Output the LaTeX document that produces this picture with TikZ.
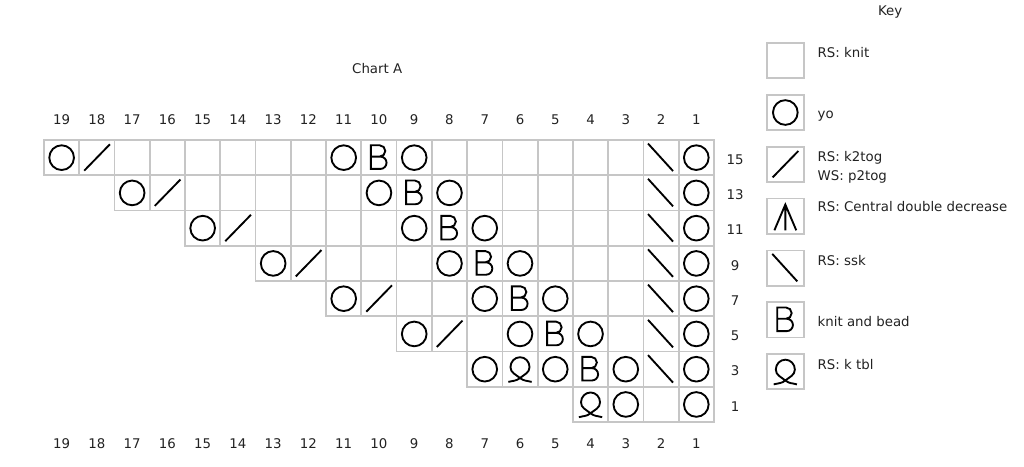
\documentclass[tikz,border=0pt]{standalone}
\usepackage{fontspec}
\setmainfont{DejaVu Sans}
\definecolor{gridgray}{RGB}{198,198,198}
\definecolor{inkgray}{RGB}{34,34,34}
\tikzset{
  cellbox/.style={draw=gridgray,line width=1.3pt},
  stitch/.style={draw=black,line width=1.4pt},
  num/.style={anchor=base,text=inkgray,font=\fontsize{10}{12}\selectfont},
  keylabel/.style={anchor=base west,text=inkgray,font=\fontsize{10}{12}\selectfont}
}
\newcommand{\yarnover}[1]{\draw[stitch] (#1) circle[radius=0.35];}
\newcommand{\ktwotog}[1]{\draw[stitch,shift={(#1)}] (-0.36,-0.37) -- (0.37,0.38);}
\newcommand{\sskst}[1]{\draw[stitch,shift={(#1)}] (-0.37,0.40) -- (0.34,-0.38);}
\newcommand{\beadst}[1]{\draw[stitch,shift={(#1)}] (-0.23,-0.32) -- (-0.23,0.35) -- (0.02,0.35)
  arc[start angle=90,end angle=-90,radius=0.16] -- (-0.23,0.03) -- (0.04,0.03)
  arc[start angle=90,end angle=-90,radius=0.175] -- cycle;}
\newcommand{\ktbl}[1]{\draw[stitch,shift={(#1)}] (-0.33,-0.36) to[out=15,in=220] (0,-0.25)
  to[out=40,in=-90] (0.27,0.06) to[out=90,in=0] (0,0.34) to[out=180,in=90] (-0.27,0.06)
  to[out=-90,in=140] (0,-0.25) to[out=-40,in=165] (0.33,-0.36);}
\newcommand{\cddst}[1]{\draw[stitch,shift={(#1)}] (-0.31,-0.4) -- (0,0.33) -- (0.31,-0.4) (0,0.33) -- (0,-0.4);}
\begin{document}
\begin{tikzpicture}[x=26.445pt,y=26.445pt]
  \useasboundingbox (-1.248,3.971) rectangle (27.794,-9.246);

  \foreach \R/\n in {15/19,13/17,11/15,9/13,7/11,5/9,3/7,1/4}
    \foreach \c in {1,...,\n} {
      \draw[cellbox] ({19-\c},{(\R-17)/2}) rectangle +(1,1);
      \coordinate (s\c-\R) at ({19.5-\c},{(\R-16)/2});
    }

  \foreach \c in {1,...,19} {
    \node[num] (top\c) at ({19.5-\c},0.454) {\c};
    \node[num] (bot\c) at ({19.5-\c},-8.744) {\c};
  }
  \foreach \R in {1,3,...,15}
    \node[num] (row\R) at (19.6,{(\R-16)/2-0.19}) {\R};

  \node[num] (title) at (9.45,1.89) {Chart A};
  \node[num] (keytitle) at (24.0,3.545) {Key};

  \yarnover{s19-15} \ktwotog{s18-15} \yarnover{s11-15} \beadst{s10-15} \yarnover{s9-15}
  \yarnover{s17-13} \ktwotog{s16-13} \yarnover{s10-13} \beadst{s9-13} \yarnover{s8-13}
  \yarnover{s15-11} \ktwotog{s14-11} \yarnover{s9-11} \beadst{s8-11} \yarnover{s7-11}
  \yarnover{s13-9} \ktwotog{s12-9} \yarnover{s8-9} \beadst{s7-9} \yarnover{s6-9}
  \yarnover{s11-7} \ktwotog{s10-7} \yarnover{s7-7} \beadst{s6-7} \yarnover{s5-7}
  \yarnover{s9-5} \ktwotog{s8-5} \yarnover{s6-5} \beadst{s5-5} \yarnover{s4-5}
  \yarnover{s7-3} \ktbl{s6-3} \yarnover{s5-3} \beadst{s4-3} \yarnover{s3-3}
  \ktbl{s4-1} \yarnover{s3-1}
  \foreach \R in {3,5,...,15} {\sskst{s2-\R}}
  \foreach \R in {1,3,...,15} {\yarnover{s1-\R}}

  \foreach \k/\t in {knit/2.75,yo/1.28,dec/-0.19,cdd/-1.66,ssk/-3.13,bead/-4.60,tbl/-6.07} {
    \draw[cellbox] (20.5,\t) rectangle +(1.05,-1.0);
    \coordinate (key\k) at (21.025,{\t-0.5});
  }
  \yarnover{keyyo} \ktwotog{keydec} \cddst{keycdd} \sskst{keyssk} \beadst{keybead} \ktbl{keytbl}

  \node[keylabel] (lknit) at (21.81,2.345) {RS: knit};
  \node[keylabel] (lyo) at (21.81,0.615) {yo};
  \node[keylabel] (lktwotog) at (21.81,-0.60) {RS: k2tog};
  \node[keylabel] (lptwotog) at (21.81,-1.134) {WS: p2tog};
  \node[keylabel] (lcdd) at (21.81,-2.033) {RS: Central double decrease};
  \node[keylabel] (lssk) at (21.81,-3.565) {RS: ssk};
  \node[keylabel] (lbead) at (21.81,-5.275) {knit and bead};
  \node[keylabel] (ltbl) at (21.81,-6.503) {RS: k tbl};
\end{tikzpicture}
\end{document}
